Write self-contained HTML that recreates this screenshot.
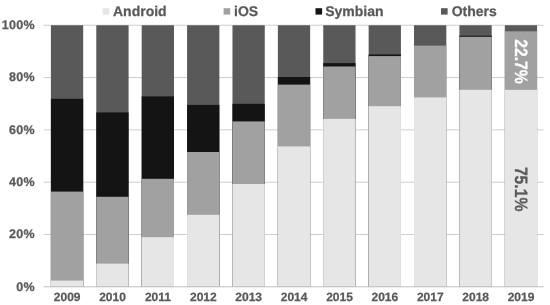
<!DOCTYPE html>
<html lang="en"><head><meta charset="utf-8"><title>Mobile OS market share</title>
<style>html,body{margin:0;padding:0;background:#fff}body{width:550px;height:305px;overflow:hidden}</style>
</head><body>
<svg width="550" height="305" viewBox="0 0 550 305" style="display:block;filter:blur(0.35px)">
<rect width="550" height="305" fill="#fff"/>
<rect x="43.6" y="233.99" width="500.10" height="1" fill="#cecece"/>
<rect x="43.6" y="181.68" width="500.10" height="1" fill="#cecece"/>
<rect x="43.6" y="129.37" width="500.10" height="1" fill="#cecece"/>
<rect x="43.6" y="77.06" width="500.10" height="1" fill="#cecece"/>
<rect x="43.6" y="24.75" width="500.10" height="1" fill="#cecece"/>
<rect x="50.90" y="25.25" width="32.3" height="261.55" fill="#595959"/>
<rect x="50.90" y="98.80" width="32.3" height="188.00" fill="#141414"/>
<rect x="50.90" y="191.60" width="32.3" height="95.20" fill="#a1a1a1"/>
<rect x="50.90" y="280.60" width="32.3" height="6.20" fill="#e6e6e6"/>
<rect x="96.29" y="25.25" width="32.3" height="261.55" fill="#595959"/>
<rect x="96.29" y="112.40" width="32.3" height="174.40" fill="#141414"/>
<rect x="96.29" y="196.80" width="32.3" height="90.00" fill="#a1a1a1"/>
<rect x="96.29" y="263.60" width="32.3" height="23.20" fill="#e6e6e6"/>
<rect x="141.68" y="25.25" width="32.3" height="261.55" fill="#595959"/>
<rect x="141.68" y="96.40" width="32.3" height="190.40" fill="#141414"/>
<rect x="141.68" y="178.80" width="32.3" height="108.00" fill="#a1a1a1"/>
<rect x="141.68" y="237.20" width="32.3" height="49.60" fill="#e6e6e6"/>
<rect x="187.07" y="25.25" width="32.3" height="261.55" fill="#595959"/>
<rect x="187.07" y="104.90" width="32.3" height="181.90" fill="#141414"/>
<rect x="187.07" y="152.00" width="32.3" height="134.80" fill="#a1a1a1"/>
<rect x="187.07" y="214.80" width="32.3" height="72.00" fill="#e6e6e6"/>
<rect x="232.46" y="25.25" width="32.3" height="261.55" fill="#595959"/>
<rect x="232.46" y="103.80" width="32.3" height="183.00" fill="#141414"/>
<rect x="232.46" y="121.40" width="32.3" height="165.40" fill="#a1a1a1"/>
<rect x="232.46" y="184.00" width="32.3" height="102.80" fill="#e6e6e6"/>
<rect x="277.85" y="25.25" width="32.3" height="261.55" fill="#595959"/>
<rect x="277.85" y="77.00" width="32.3" height="209.80" fill="#141414"/>
<rect x="277.85" y="84.60" width="32.3" height="202.20" fill="#a1a1a1"/>
<rect x="277.85" y="146.40" width="32.3" height="140.40" fill="#e6e6e6"/>
<rect x="323.24" y="25.25" width="32.3" height="261.55" fill="#595959"/>
<rect x="323.24" y="63.10" width="32.3" height="223.70" fill="#141414"/>
<rect x="323.24" y="66.50" width="32.3" height="220.30" fill="#a1a1a1"/>
<rect x="323.24" y="118.90" width="32.3" height="167.90" fill="#e6e6e6"/>
<rect x="368.63" y="25.25" width="32.3" height="261.55" fill="#595959"/>
<rect x="368.63" y="54.50" width="32.3" height="232.30" fill="#141414"/>
<rect x="368.63" y="56.10" width="32.3" height="230.70" fill="#a1a1a1"/>
<rect x="368.63" y="106.20" width="32.3" height="180.60" fill="#e6e6e6"/>
<rect x="414.02" y="25.25" width="32.3" height="261.55" fill="#595959"/>
<rect x="414.02" y="45.60" width="32.3" height="241.20" fill="#a1a1a1"/>
<rect x="414.02" y="97.40" width="32.3" height="189.40" fill="#e6e6e6"/>
<rect x="459.41" y="25.25" width="32.3" height="261.55" fill="#595959"/>
<rect x="459.41" y="35.70" width="32.3" height="251.10" fill="#141414"/>
<rect x="459.41" y="36.80" width="32.3" height="250.00" fill="#a1a1a1"/>
<rect x="459.41" y="89.80" width="32.3" height="197.00" fill="#e6e6e6"/>
<rect x="504.80" y="25.25" width="32.3" height="261.55" fill="#595959"/>
<rect x="504.80" y="31.30" width="32.3" height="255.50" fill="#a1a1a1"/>
<rect x="504.80" y="89.90" width="32.3" height="196.90" fill="#e6e6e6"/>
<rect x="43.6" y="286.30" width="500.10" height="1" fill="#c0c0c0"/>
<g font-family="Liberation Sans, Arial, sans-serif" font-weight="bold" fill="#595959" text-rendering="geometricPrecision" stroke="#595959" stroke-width="0.25">
<text x="35" y="290.55" font-size="12.5" letter-spacing="0.3" text-anchor="end">0%</text>
<text x="35" y="238.24" font-size="12.5" letter-spacing="0.3" text-anchor="end">20%</text>
<text x="35" y="185.93" font-size="12.5" letter-spacing="0.3" text-anchor="end">40%</text>
<text x="35" y="133.62" font-size="12.5" letter-spacing="0.3" text-anchor="end">60%</text>
<text x="35" y="81.31" font-size="12.5" letter-spacing="0.3" text-anchor="end">80%</text>
<text x="35" y="29.00" font-size="12.5" letter-spacing="0.3" text-anchor="end">100%</text>
<text x="67.15" y="300.7" font-size="12" text-anchor="middle">2009</text>
<text x="112.54" y="300.7" font-size="12" text-anchor="middle">2010</text>
<text x="157.93" y="300.7" font-size="12" text-anchor="middle">2011</text>
<text x="203.32" y="300.7" font-size="12" text-anchor="middle">2012</text>
<text x="248.71" y="300.7" font-size="12" text-anchor="middle">2013</text>
<text x="294.10" y="300.7" font-size="12" text-anchor="middle">2014</text>
<text x="339.49" y="300.7" font-size="12" text-anchor="middle">2015</text>
<text x="384.88" y="300.7" font-size="12" text-anchor="middle">2016</text>
<text x="430.27" y="300.7" font-size="12" text-anchor="middle">2017</text>
<text x="475.66" y="300.7" font-size="12" text-anchor="middle">2018</text>
<text x="521.05" y="300.7" font-size="12" text-anchor="middle">2019</text>
<rect x="102.6" y="8.2" width="6.6" height="6.4" fill="#e6e6e6" stroke="none"/>
<text x="113" y="16" font-size="14">Android</text>
<rect x="223.6" y="8.2" width="6.6" height="6.4" fill="#a1a1a1" stroke="none"/>
<text x="234.0" y="16" font-size="14">iOS</text>
<rect x="315.5" y="8.2" width="6.6" height="6.4" fill="#141414" stroke="none"/>
<text x="325.2" y="16" font-size="14">Symbian</text>
<rect x="441" y="8.2" width="6.6" height="6.4" fill="#595959" stroke="none"/>
<text x="451.7" y="16" font-size="14">Others</text>
<text transform="translate(514.9 39.3) rotate(90) scale(1 1.14)" font-size="15.7" fill="#fff" stroke="#fff">22.7%</text>
<text transform="translate(514.9 166.9) rotate(90) scale(1 1.14)" font-size="15.7">75.1%</text>
</g>
</svg>
</body></html>
